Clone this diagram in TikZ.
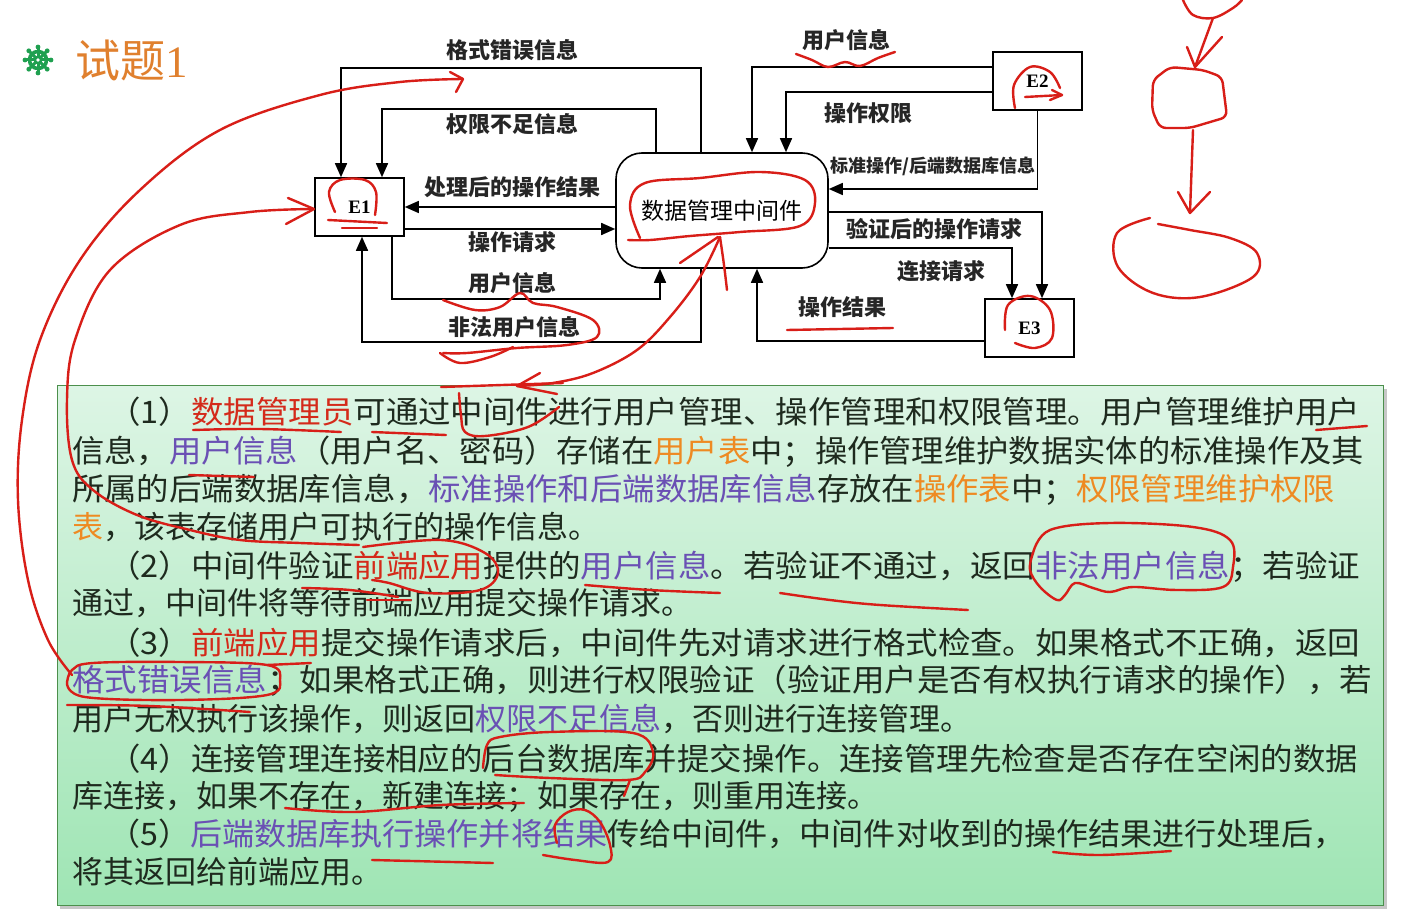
\documentclass[tikz,border=0pt]{standalone}
\usepackage{fontspec}
\setmainfont{Liberation Serif}
\newfontfamily\cjk{Noto Sans CJK SC}
\usetikzlibrary{arrows.meta,calc}
\definecolor{txt}{HTML}{1E2A1E}
\definecolor{redt}{HTML}{D42A1A}
\definecolor{pur}{HTML}{6A50B4}
\definecolor{org}{HTML}{EE8A22}
\definecolor{ink}{HTML}{D81E18}
\definecolor{ttl}{HTML}{E0802E}
\definecolor{icon}{HTML}{1FA050}
\definecolor{boxtop}{HTML}{DDF5E5}
\definecolor{boxbot}{HTML}{9FE5B4}
\newlength\jwid
\newcommand\jfit[2]{\settowidth\jwid{#2}\pgfmathsetmacro\jsx{#1/\jwid}\scalebox{\jsx}[1]{#2}}
\newcommand\redsk[1]{\draw[ann] plot[smooth, tension=0.6] coordinates {#1};}
\tikzset{
  ent/.style={draw=black, line width=1.6pt, minimum width=89pt, minimum height=58pt, inner sep=0pt, fill=white, font=\bfseries\fontsize{19}{19}\selectfont},
  mid/.style={draw=black, line width=1.6pt, rounded corners=26pt, minimum width=212pt, minimum height=115pt, inner sep=0pt, fill=white, font=\cjk\fontsize{23}{23}\selectfont},
  flow/.style={draw=black, line width=1.6pt, -{Triangle[length=14pt,width=12pt]}},
  lbl/.style={inner sep=0pt, text=black!85, font=\cjk\bfseries\fontsize{22}{22}\selectfont},
  tline/.style={anchor=west, inner sep=0pt, text=txt, font=\cjk\fontsize{31}{31}\selectfont},
  ann/.style={draw=ink, line width=2.4pt, line cap=round, line join=round}
}
\begin{document}
\begin{tikzpicture}[x=1pt,y=-1pt]
\fill[white] (0,0) rectangle (1409,923);
\useasboundingbox (0,0) rectangle (1409,923);
% title
\draw[icon, line width=3.6pt] (38,60) circle (8.5pt);
\foreach \a in {0,45,...,315} {\draw[icon, line width=3pt] (38,60) -- ++(\a:12);
  \fill[icon] ($(38,60)+(\a:13)$) circle (2.4pt);}
\fill[icon] (38,60) circle (4.5pt);
\fill[white] (38,60) circle (1.8pt);
\node[anchor=west, inner sep=0pt, text=ttl, font=\fontsize{45}{45}\selectfont] (title) at (75,60) {{\cjk 试题}1};
% diagram nodes
\node[ent] (E1) at (359.5,207) {E1};
\node[ent] (E2) at (1037.5,81) {E2};
\node[ent] (E3) at (1029.5,328) {E3};
\node[mid] (M) at (722,210.5) {数据管理中间件};
% connectors
\draw[flow] ([xshift=-21pt]M.north) -- ++(0,-84) -| ([xshift=-18.5pt]E1.north);
\draw[flow] ([xshift=41pt]M.north west) -- ++(0,-43) -| ([xshift=22.5pt]E1.north);
\draw[flow] (M.west |- E1.east) -- (E1.east);
\coordinate (r4) at ([yshift=-22pt]E1.east);
\draw[flow] (r4) -- (r4 -| M.west);
\draw[flow] ([xshift=32.5pt]E1.south) -- ++(0,62) -| ([xshift=-62pt]M.south);
\draw[flow] ([xshift=-21pt]M.south) -- ++(0,73) -| ([xshift=2.5pt]E1.south);
\draw[flow] ([yshift=14pt]E2.west) -| ([xshift=30pt]M.north);
\draw[flow] ([yshift=-11pt]E2.west) -| ([xshift=64pt]M.north);
\draw[flow] (E2.south) |- ([yshift=21.5pt]M.east);
\draw[flow] ([yshift=-1.5pt]M.east) -| ([xshift=12.5pt]E3.north);
\draw[flow] ([yshift=-37.5pt]M.east) -| ([xshift=-17.5pt]E3.north);
\draw[flow] ([yshift=-13pt]E3.west) -| ([xshift=35pt]M.south);
% labels
\node[lbl] (l1) at (512,50) {格式错误信息};
\node[lbl] (l2) at (512,124) {权限不足信息};
\node[lbl] (l3) at (512,187) {处理后的操作结果};
\node[lbl] (l4) at (512,242) {操作请求};
\node[lbl] (l5) at (512,283) {用户信息};
\node[lbl] (l6) at (514,327) {非法用户信息};
\node[lbl] (l7) at (846,40) {用户信息};
\node[lbl] (l8) at (868,113) {操作权限};
\node[lbl, font=\cjk\bfseries\fontsize{18}{18}\selectfont] (l9) at (933,166) {标准操作/后端数据库信息};
\node[lbl] (l10) at (934,229) {验证后的操作请求};
\node[lbl] (l11) at (941,271) {连接请求};
\node[lbl] (l12) at (842,307) {操作结果};
% text box
\fill[black!22] (60,389) rectangle (1387,909);
\shade[top color=boxtop, bottom color=boxbot, draw=black!35!green!40!gray, line width=0.8pt] (57,385) rectangle (1383,905);
\node[tline] (t1) at (108,412) {\jfit{1252}{（1）\textcolor{redt}{数据管理员}可通过中间件进行用户管理、操作管理和权限管理。用户管理维护用户}};
\node[tline] (t2) at (72,452) {\jfit{1292}{信息，\textcolor{pur}{用户信息}（用户名、密码）存储在\textcolor{org}{用户表}中；操作管理维护数据实体的标准操作及其}};
\node[tline] (t3) at (72,490) {\jfit{1263}{所属的后端数据库信息，\textcolor{pur}{标准操作和后端数据库信息}存放在\textcolor{org}{操作表}中；\textcolor{org}{权限管理维护权限}}};
\node[tline] (t4) at (72,527) {\textcolor{org}{表}，该表存储用户可执行的操作信息。};
\node[tline] (t5) at (108,567) {\jfit{1252}{（2）中间件验证\textcolor{redt}{前端应用}提供的\textcolor{pur}{用户信息}。若验证不通过，返回\textcolor{pur}{非法用户信息}；若验证}};
\node[tline] (t6) at (72,603) {通过，中间件将等待前端应用提交操作请求。};
\node[tline] (t7) at (108,643) {\jfit{1252}{（3）\textcolor{redt}{前端应用}提交操作请求后，中间件先对请求进行格式检查。如果格式不正确，返回}};
\node[tline] (t8) at (72,681) {\jfit{1300}{\textcolor{pur}{格式错误信息}；如果格式正确，则进行权限验证（验证用户是否有权执行请求的操作），若}};
\node[tline] (t9) at (72,719) {用户无权执行该操作，则返回\textcolor{pur}{权限不足信息}，否则进行连接管理。};
\node[tline] (t10) at (108,759) {\jfit{1250}{（4）连接管理连接相应的后台数据库并提交操作。连接管理先检查是否存在空闲的数据}};
\node[tline] (t11) at (72,797) {库连接，如果不存在，新建连接；如果存在，则重用连接。};
\node[tline] (t12) at (108,834) {\jfit{1237}{（5）\textcolor{pur}{后端数据库执行操作并将结果}传给中间件，中间件对收到的操作结果进行处理后，}};
\node[tline] (t13) at (72,872) {将其返回给前端应用。};
% handwritten annotations
\redsk{(335,212) (329,192) (340,180) (365,180) (376,192) (375,215)}
\draw[ann] (328,220) -- (387,223);
\draw[ann] (342,228) -- (377,228);
\redsk{(640,238) (630,205) (645,183) (700,178) (760,172) (805,180) (815,203) (800,226) (740,232) (690,236) (650,240) (628,240)}
\redsk{(720,237) (700,277) (670,317) (637,350) (593,373) (553,383) (517,386)}
\draw[ann] (540,373) -- (517,386) -- (557,394);
\draw[ann] (680,263) -- (718,237);
\redsk{(720,237) (724,265) (727,290)}
\redsk{(1015,108) (1014,85) (1030,67) (1050,72) (1060,88)}
\draw[ann] (1025,97) -- (1062,95);
\draw[ann] (1052,90) -- (1062,95) -- (1050,100);
\redsk{(796,54) (812,60) (828,67) (845,62) (860,66) (878,58) (895,52)}
\redsk{(1005,330) (1008,305) (1030,296) (1050,310) (1052,338) (1035,348) (1015,343)}
\draw[ann] (787,330) -- (893,328);
\redsk{(443,300) (475,310) (500,307) (520,293) (533,303) (557,307) (593,320) (597,337) (567,345) (517,348) (467,353) (443,353)}
\redsk{(440,353) (460,363) (490,357) (513,347)}
\redsk{(72,675) (48,640) (28,580) (18,500) (22,420) (40,340) (80,260) (140,190) (220,130) (320,95) (400,82) (463,79)}
\draw[ann] (450,72) -- (463,79) -- (456,92);
\redsk{(359,545) (300,543) (240,540) (190,530) (137,515) (93,490) (72,460) (67,400) (75,340) (110,270) (180,225) (250,212) (312,209)}
\draw[ann] (288,198) -- (314,209) -- (286,224);
\redsk{(193,430) (260,429) (341,432)}
\draw[ann] (372,432) -- (446,435);
\draw[ann] (441,387) -- (563,383);
\redsk{(459,393) (461,415) (465,432) (485,436) (528,427) (559,407)}
\draw[ann] (1316,430) -- (1367,426);
\draw[ann] (189,475) -- (254,477);
\redsk{(363,547) (441,540) (485,553) (498,573) (480,590) (428,593) (389,583) (372,580)}
\redsk{(302,588) (350,590) (398,597)}
\draw[ann] (367,600) -- (411,600);
\redsk{(585,585) (650,590) (720,593)}
\redsk{(780,593) (830,600) (880,605) (968,610)}
\redsk{(1033,553) (1050,530) (1110,523) (1193,527) (1230,540) (1233,567) (1223,587) (1177,590) (1133,587) (1110,592) (1093,588) (1075,583) (1065,595) (1057,600) (1040,587) (1030,570) (1033,553)}
\redsk{(67,683) (72,670) (93,663) (180,662) (267,665) (280,680) (267,695) (180,700) (85,697) (67,683)}
\draw[ann] (267,665) -- (311,663);
\redsk{(67,705) (150,706) (250,712)}
\redsk{(483,768) (487,745) (500,737) (550,732) (633,733) (653,752) (645,772) (627,780) (550,778) (495,775)}
\draw[ann] (630,780) -- (624,796);
\redsk{(285,808) (354,812) (441,805) (524,803)}
\redsk{(557,843) (555,825) (568,812) (585,810) (600,822) (610,845) (608,862) (575,860) (543,855)}
\draw[ann] (372,860) -- (493,863);
\redsk{(1053,852) (1100,855) (1171,851)}
% right-hand sketch
\redsk{(1183,0) (1193,15) (1213,18) (1233,8) (1242,0)}
\draw[ann] (1213,18) -- (1195,67);
\draw[ann] (1187,47) -- (1195,67) -- (1222,37);
\draw[ann, rounded corners=6pt] (1170,67) -- (1153,80) -- (1152,110) -- (1160,128) -- (1190,128) -- (1227,117) -- (1222,77) -- (1203,70) -- cycle;
\draw[ann] (1193,130) -- (1190,213);
\draw[ann] (1178,192) -- (1190,213) -- (1210,192);
\redsk{(1150,218) (1117,233) (1118,267) (1153,293) (1200,297) (1253,277) (1257,253) (1230,238) (1190,230) (1158,224)}
\end{tikzpicture}
\end{document}
